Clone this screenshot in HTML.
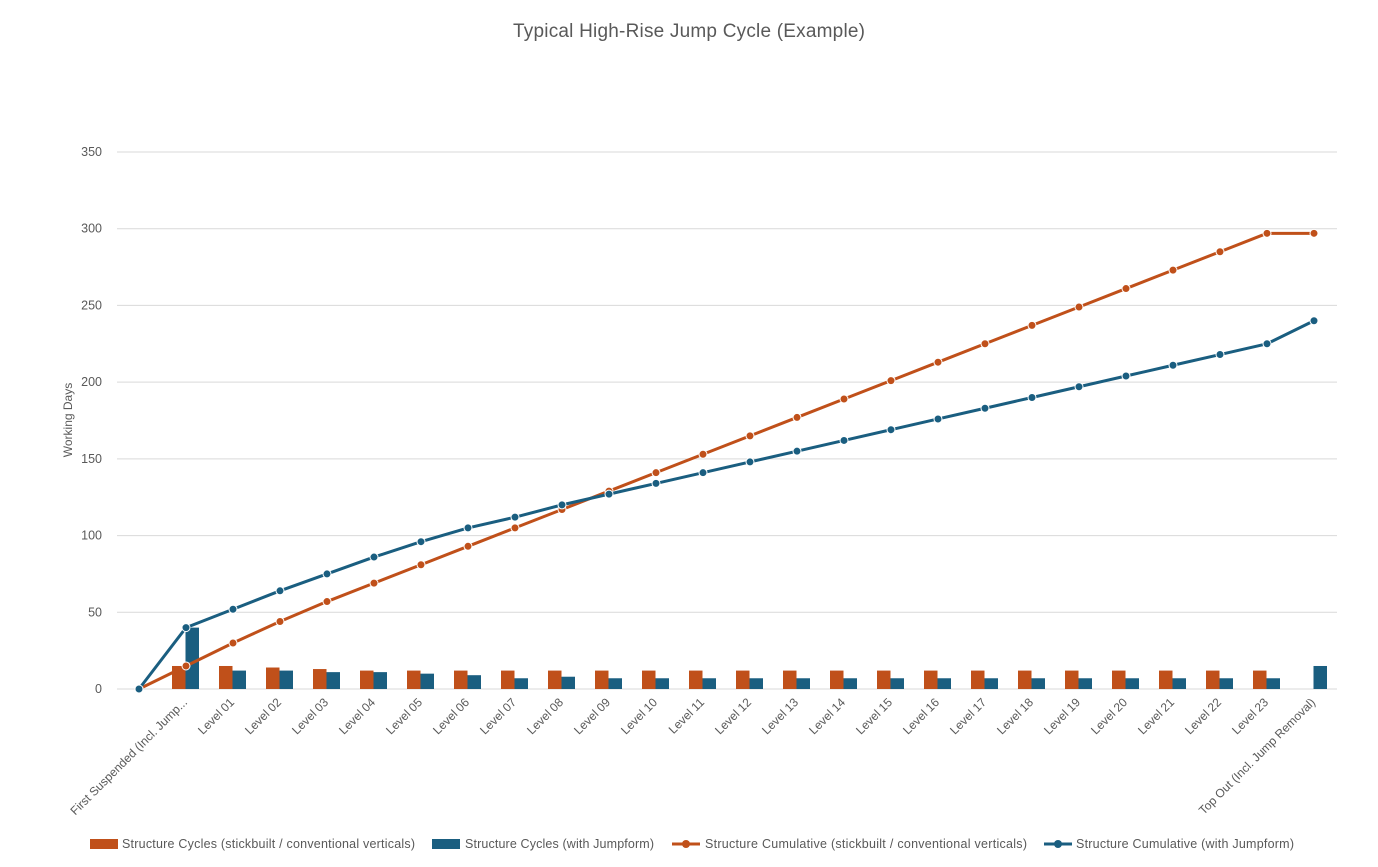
<!DOCTYPE html>
<html><head><meta charset="utf-8"><style>
body{margin:0;background:#fff;}
svg{display:block;font-family:"Liberation Sans",sans-serif;}
</style></head><body>
<svg id="s" width="1378" height="867" xmlns="http://www.w3.org/2000/svg">
<rect width="1378" height="867" fill="#fff"/>
<text x="689" y="37" text-anchor="middle" font-size="19" fill="#595959" textLength="352">Typical High-Rise Jump Cycle (Example)</text>
<text transform="translate(72,420) rotate(-90)" text-anchor="middle" font-size="12" fill="#595959">Working Days</text>
<g id="g"></g>
</svg>
<script>
const g=document.getElementById('g');
const NS='http://www.w3.org/2000/svg';
function el(t,a,txt){const e=document.createElementNS(NS,t);for(const k in a)e.setAttribute(k,a[k]);if(txt!==undefined)e.textContent=txt;g.appendChild(e);return e;}
const X=i=>139+47*i, Y=v=>689-v*537/350;
const O='#C0501A',B='#1A5E80';
for(let v=0;v<=350;v+=50){el('line',{x1:117,x2:1337,y1:Y(v),y2:Y(v),stroke:'#d9d9d9','stroke-width':1});
el('text',{x:102,y:Y(v)+4,'text-anchor':'end','font-size':12.5,fill:'#595959'},v);}
const cats=['','First Suspended (Incl. Jump...'];
for(let i=1;i<=23;i++)cats.push('Level '+String(i).padStart(2,'0'));
cats.push('Top Out (Incl. Jump Removal)');
const oc=[0,15,30,44,57,69,81,93,105,117,129,141,153,165,177,189,201,213,225,237,249,261,273,285,297,297];
const bc=[0,40,52,64,75,86,96,105,112,120,127,134,141,148,155,162,169,176,183,190,197,204,211,218,225,240];
for(let i=1;i<26;i++){
 const ob=oc[i]-oc[i-1], bb=bc[i]-bc[i-1];
 if(ob>0)el('rect',{x:X(i)-14,y:Y(ob),width:13.5,height:689-Y(ob),fill:O});
 el('rect',{x:X(i)-0.5,y:Y(bb),width:13.5,height:689-Y(bb),fill:B});
 el('text',{x:0,y:0,transform:`translate(${X(i)+2},${703}) rotate(-45)`,'text-anchor':'end','font-size':12,fill:'#595959'},cats[i]);
}
function line(d,c){el('polyline',{points:d.map((v,i)=>X(i)+','+Y(v)).join(' '),fill:'none',stroke:c,'stroke-width':3,'stroke-linejoin':'round'});
d.forEach((v,i)=>el('circle',{cx:X(i),cy:Y(v),r:4,fill:c,stroke:'#fff','stroke-width':1}));}
line(oc,O);line(bc,B);
const ly=844;
el('rect',{x:90,y:ly-5,width:28,height:10,fill:O});
el('text',{x:122,y:ly+4,'font-size':12.5,fill:'#595959',textLength:293},'Structure Cycles (stickbuilt / conventional verticals)');
el('rect',{x:432,y:ly-5,width:28,height:10,fill:B});
el('text',{x:465,y:ly+4,'font-size':12.5,fill:'#595959',textLength:189},'Structure Cycles (with Jumpform)');
el('line',{x1:672,x2:700,y1:ly,y2:ly,stroke:O,'stroke-width':3});el('circle',{cx:686,cy:ly,r:4,fill:O});
el('text',{x:705,y:ly+4,'font-size':12.5,fill:'#595959',textLength:322},'Structure Cumulative  (stickbuilt / conventional verticals)');
el('line',{x1:1044,x2:1072,y1:ly,y2:ly,stroke:B,'stroke-width':3});el('circle',{cx:1058,cy:ly,r:4,fill:B});
el('text',{x:1076,y:ly+4,'font-size':12.5,fill:'#595959',textLength:218},'Structure Cumulative  (with Jumpform)');
</script>
</body></html>
